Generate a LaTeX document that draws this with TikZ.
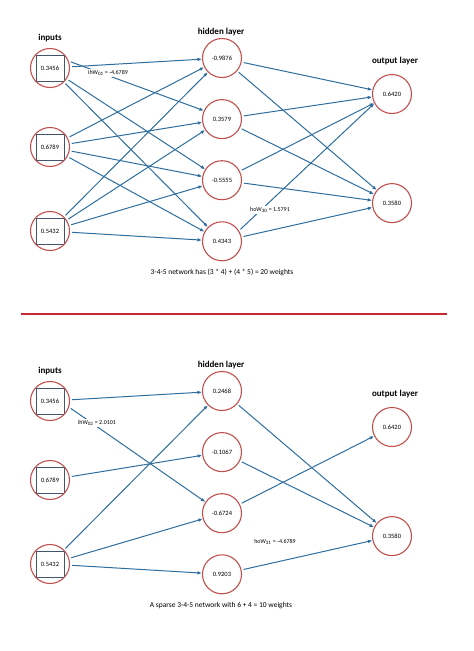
\documentclass[tikz,border=0pt]{standalone}
\usepackage{fontspec}
\setmainfont{Carlito}
\usepackage{xcolor}
\usepackage{tikz}
\usetikzlibrary{arrows.meta,positioning}

\definecolor{nodered}{RGB}{192,80,77}
\definecolor{edgeblue}{RGB}{46,110,158}
\definecolor{boxslate}{RGB}{68,84,106}
\definecolor{rulered}{RGB}{200,40,50}

\begin{document}
\begin{tikzpicture}[
    x=1pt, y=-1pt,
    font=\fontsize{6.5}{7.5}\selectfont,
    neuron/.style={circle, draw=nodered, line width=1.1pt, minimum size=39pt,
      inner sep=0pt},
    innode/.style={neuron, path picture={\draw[boxslate, line width=0.8pt]
        (path picture bounding box.center) +(-14,-13) rectangle +(14,13);}},
    arr/.style={-{Latex[length=4.5pt,width=3.6pt]}, edgeblue, line width=1pt,
      shorten <=2pt},
    layerlbl/.style={font=\bfseries\fontsize{9}{10}\selectfont},
    wlbl/.style={fill=white, inner sep=1pt, font=\fontsize{6}{7}\selectfont},
    notelbl/.style={font=\fontsize{7.5}{9}\selectfont},
  ]
    \useasboundingbox (0,0) rectangle (474,651);

    % --- full network: layer titles ---
    \node[layerlbl] (in-lbl) at (50,38) {inputs};
    \node[layerlbl] (hid-lbl) at (221,32) {hidden layer};
    \node[layerlbl] (out-lbl) at (395,61) {output layer};

    % --- full network: nodes ---
    \node[innode] (in0) at (50,68) {0.3456};
    \node[innode] (in1) at (50,147) {0.6789};
    \node[innode] (in2) at (50,231) {0.5432};
    \node[neuron] (hid0) at (222,58) {-0.9876};
    \node[neuron, below=21pt of hid0] (hid1) {0.3579};
    \node[neuron, below=21pt of hid1] (hid2) {-0.5555};
    \node[neuron, below=21pt of hid2] (hid3) {0.4343};
    \node[neuron] (out0) at (392,94) {0.6420};
    \node[neuron, below=69pt of out0] (out1) {0.3580};

    % input -> hidden
    \draw[arr] (in0) -- (hid0);
    \draw[arr] (in0.20) -- (hid1.155);
    \draw[arr] (in0) -- (hid2);
    \draw[arr] (in0) -- (hid3);
    \draw[arr] (in1) -- (hid0);
    \draw[arr] (in1) -- (hid1);
    \draw[arr] (in1) -- (hid2);
    \draw[arr] (in1) -- (hid3);
    \draw[arr] (in2) -- (hid0);
    \draw[arr] (in2) -- (hid1);
    \draw[arr] (in2) -- (hid2);
    \draw[arr] (in2) -- (hid3);
    % hidden -> output
    \draw[arr] (hid0) -- (out0);
    \draw[arr] (hid0) -- (out1);
    \draw[arr] (hid1) -- (out0);
    \draw[arr] (hid1) -- (out1);
    \draw[arr] (hid2) -- (out0);
    \draw[arr] (hid2) -- (out1);
    \draw[arr] (hid3.32) -- (out0.208);
    \draw[arr] (hid3) -- (out1);

    % weight labels
    \node[wlbl] (ihw-lbl) at (108,73) {ihW\textsubscript{01} = -4.6789};
    \node[wlbl] (how-lbl) at (270,210) {hoW\textsubscript{30} = 1.5791};

    \node[notelbl] (full-note) at (222,272)
      {3-4-5 network has (3 * 4) + (4 * 5) = 20 weights};

    % --- separator ---
    \coordinate (sep-l) at (21,314);
    \coordinate (sep-r) at (447,314);
    \draw[rulered, line width=2pt] (sep-l) -- (sep-r);

    % --- sparse network: layer titles ---
    \node[layerlbl] (sin-lbl) at (50,371) {inputs};
    \node[layerlbl] (shid-lbl) at (221,365) {hidden layer};
    \node[layerlbl] (sout-lbl) at (395,394) {output layer};

    % --- sparse network: nodes ---
    \node[innode] (sin0) at (50,401) {0.3456};
    \node[innode] (sin1) at (50,480) {0.6789};
    \node[innode] (sin2) at (50,564) {0.5432};
    \node[neuron] (shid0) at (222,391) {0.2468};
    \node[neuron, below=21pt of shid0] (shid1) {-0.1067};
    \node[neuron, below=21pt of shid1] (shid2) {-0.6724};
    \node[neuron, below=21pt of shid2] (shid3) {0.9203};
    \node[neuron] (sout0) at (392,427) {0.6420};
    \node[neuron, below=69pt of sout0] (sout1) {0.3580};

    % input -> hidden
    \draw[arr] (sin0) -- (shid0);
    \draw[arr] (sin0.-18) -- (shid2.146);
    \draw[arr] (sin1) -- (shid1);
    \draw[arr] (sin2) -- (shid0);
    \draw[arr] (sin2) -- (shid2);
    \draw[arr] (sin2) -- (shid3);
    % hidden -> output
    \draw[arr] (shid0) -- (sout1);
    \draw[arr] (shid1) -- (sout1);
    \draw[arr] (shid2) -- (sout0);
    \draw[arr] (shid3) -- (sout1);

    % weight labels
    \node[wlbl] (sihw-lbl) at (97,423) {ihW\textsubscript{02} = 2.0101};
    \node[wlbl] (show-lbl) at (275,542) {hoW\textsubscript{31} = -4.6789};

    \node[notelbl] (sparse-note) at (221,606)
      {A sparse 3-4-5 network with 6 + 4 = 10 weights};
  \end{tikzpicture}
\end{document}
